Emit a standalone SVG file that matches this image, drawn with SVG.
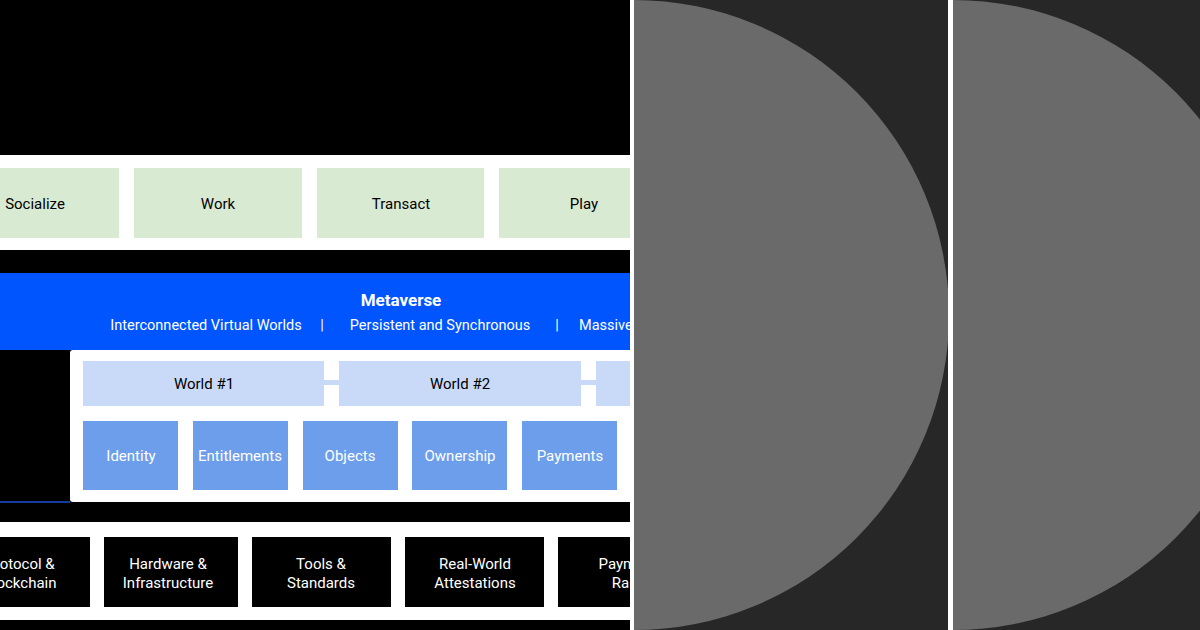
<svg xmlns="http://www.w3.org/2000/svg" width="1200" height="630" viewBox="0 0 1200 630">
<style>
text{font-family:Roboto,"Liberation Sans",sans-serif;font-size:15px;text-anchor:middle}
.g{fill:#d9ead3}.w{fill:#c9daf8}.b{fill:#6d9eeb}.k{fill:#000}
.sub{font-size:14.5px;fill:#fff}
</style>
<rect width="1200" height="630" fill="#000"/>
<rect x="630" width="570" height="630" fill="#fff"/>
<rect x="634" width="314" height="630" fill="#272727"/>
<rect x="953" width="247" height="630" fill="#272727"/>
<clipPath id="c1"><rect x="634" width="314" height="630"/></clipPath>
<clipPath id="c2"><rect x="953" width="247" height="630"/></clipPath>
<circle cx="634" cy="315" r="315" fill="#6a6a6a" clip-path="url(#c1)"/>
<circle cx="953" cy="315" r="315" fill="#6a6a6a" clip-path="url(#c2)"/>
<clipPath id="cl"><rect width="630" height="630"/></clipPath>
<g clip-path="url(#cl)">
<rect x="0" y="155" width="630" height="95" fill="#fff"/>
<g id="socialize"><rect class="g" x="-50" y="168" width="169" height="70"/><text x="35" y="209">Socialize</text></g>
<g id="work"><rect class="g" x="134" y="168" width="168" height="70"/><text x="218" y="209">Work</text></g>
<g id="transact"><rect class="g" x="317" y="168" width="167" height="70"/><text x="401" y="209">Transact</text></g>
<g id="play"><rect class="g" x="499" y="168" width="168" height="70"/><text x="584" y="209">Play</text></g>
<g id="metaverse"><rect x="0" y="273" width="630" height="77" fill="#0055ff"/>
<text x="401" y="306" style="fill:#fff;font-size:17px;font-weight:bold">Metaverse</text>
<text class="sub" x="206" y="330">Interconnected Virtual Worlds</text>
<text class="sub" x="322" y="330">|</text>
<text class="sub" x="440" y="330">Persistent and Synchronous</text>
<text class="sub" x="557" y="330">|</text>
<text class="sub" x="579" y="330" style="text-anchor:start">Massive</text></g>
<rect x="70" y="350" width="580" height="152" rx="3" fill="#fff"/>
<line x1="0" y1="502" x2="70" y2="502" stroke="#1a4fd6" stroke-width="1.5"/>
<g id="connectors" fill="#c9daf8"><rect x="324" y="380" width="15" height="5"/><rect x="581" y="380" width="15" height="5"/></g>
<g id="world1"><rect class="w" x="83" y="361" width="241" height="45"/><text x="204" y="389">World #1</text></g>
<g id="world2"><rect class="w" x="339" y="361" width="242" height="45"/><text x="460" y="389">World #2</text></g>
<g id="world3"><rect class="w" x="596" y="361" width="100" height="45"/></g>
<g id="identity"><rect class="b" x="83" y="421" width="95" height="69"/><text x="131" y="461" fill="#fff">Identity</text></g>
<g id="entitlements"><rect class="b" x="193" y="421" width="95" height="69"/><text x="240" y="461" fill="#fff">Entitlements</text></g>
<g id="objects"><rect class="b" x="303" y="421" width="95" height="69"/><text x="350" y="461" fill="#fff">Objects</text></g>
<g id="ownership"><rect class="b" x="412" y="421" width="95" height="69"/><text x="460" y="461" fill="#fff">Ownership</text></g>
<g id="payments"><rect class="b" x="522" y="421" width="95" height="69"/><text x="570" y="461" fill="#fff">Payments</text></g>
<rect x="0" y="522" width="630" height="98" fill="#fff"/>
<g id="protocol"><rect class="k" x="-50" y="537" width="140" height="70"/><text x="20" y="569" fill="#fff">Protocol &amp;</text><text x="20" y="588" fill="#fff">Blockchain</text></g>
<g id="hardware"><rect class="k" x="104" y="537" width="134" height="70"/><text x="168" y="569" fill="#fff">Hardware &amp;</text><text x="168" y="588" fill="#fff">Infrastructure</text></g>
<g id="tools"><rect class="k" x="252" y="537" width="139" height="70"/><text x="321" y="569" fill="#fff">Tools &amp;</text><text x="321" y="588" fill="#fff">Standards</text></g>
<g id="attest"><rect class="k" x="405" y="537" width="139" height="70"/><text x="475" y="569" fill="#fff">Real-World</text><text x="475" y="588" fill="#fff">Attestations</text></g>
<g id="payrails"><rect class="k" x="558" y="537" width="140" height="70"/><text x="628" y="569" fill="#fff">Payment</text><text x="628" y="588" fill="#fff">Rails</text></g>
</g>
</svg>
